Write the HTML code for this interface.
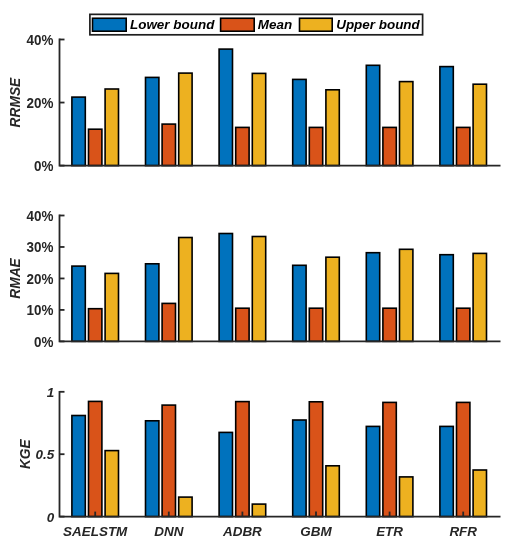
<!DOCTYPE html>
<html><head><meta charset="utf-8"><title>Bar chart</title>
<style>html,body{margin:0;padding:0;background:#fff;width:515px;height:550px;overflow:hidden}</style>
</head><body><div style="width:515px;height:550px">
<svg width="515" height="550" viewBox="0 0 515 550" style="display:block">
<g>
<rect x="0" y="0" width="515" height="550" fill="#fff"/>
<rect x="71.90" y="97.10" width="13.40" height="68.50" fill="#0072BD" stroke="#000" stroke-width="1.6"/>
<rect x="88.50" y="129.20" width="13.40" height="36.40" fill="#D95319" stroke="#000" stroke-width="1.6"/>
<rect x="105.10" y="89.00" width="13.40" height="76.60" fill="#EDB120" stroke="#000" stroke-width="1.6"/>
<rect x="145.50" y="77.40" width="13.40" height="88.20" fill="#0072BD" stroke="#000" stroke-width="1.6"/>
<rect x="162.10" y="124.10" width="13.40" height="41.50" fill="#D95319" stroke="#000" stroke-width="1.6"/>
<rect x="178.70" y="73.10" width="13.40" height="92.50" fill="#EDB120" stroke="#000" stroke-width="1.6"/>
<rect x="219.10" y="49.10" width="13.40" height="116.50" fill="#0072BD" stroke="#000" stroke-width="1.6"/>
<rect x="235.70" y="127.40" width="13.40" height="38.20" fill="#D95319" stroke="#000" stroke-width="1.6"/>
<rect x="252.30" y="73.40" width="13.40" height="92.20" fill="#EDB120" stroke="#000" stroke-width="1.6"/>
<rect x="292.70" y="79.40" width="13.40" height="86.20" fill="#0072BD" stroke="#000" stroke-width="1.6"/>
<rect x="309.30" y="127.40" width="13.40" height="38.20" fill="#D95319" stroke="#000" stroke-width="1.6"/>
<rect x="325.90" y="89.80" width="13.40" height="75.80" fill="#EDB120" stroke="#000" stroke-width="1.6"/>
<rect x="366.30" y="65.30" width="13.40" height="100.30" fill="#0072BD" stroke="#000" stroke-width="1.6"/>
<rect x="382.90" y="127.40" width="13.40" height="38.20" fill="#D95319" stroke="#000" stroke-width="1.6"/>
<rect x="399.50" y="81.60" width="13.40" height="84.00" fill="#EDB120" stroke="#000" stroke-width="1.6"/>
<rect x="439.90" y="66.60" width="13.40" height="99.00" fill="#0072BD" stroke="#000" stroke-width="1.6"/>
<rect x="456.50" y="127.40" width="13.40" height="38.20" fill="#D95319" stroke="#000" stroke-width="1.6"/>
<rect x="473.10" y="84.20" width="13.40" height="81.40" fill="#EDB120" stroke="#000" stroke-width="1.6"/>
<path d="M59.5,39.5 V165.6 H499.6" fill="none" stroke="#262626" stroke-width="1.8" stroke-linecap="square"/>
<path d="M59.5,165.60 H64.5" stroke="#262626" stroke-width="1.8"/>
<text transform="translate(53.5,170.90) scale(1,1.06)" text-anchor="end" style="font-family:'Liberation Sans',Arial,sans-serif;font-weight:bold;font-size:13.45px" fill="#262626">0%</text>
<path d="M59.5,102.55 H64.5" stroke="#262626" stroke-width="1.8"/>
<text transform="translate(53.5,107.85) scale(1,1.06)" text-anchor="end" style="font-family:'Liberation Sans',Arial,sans-serif;font-weight:bold;font-size:13.45px" fill="#262626">20%</text>
<path d="M59.5,39.50 H64.5" stroke="#262626" stroke-width="1.8"/>
<text transform="translate(53.5,44.80) scale(1,1.06)" text-anchor="end" style="font-family:'Liberation Sans',Arial,sans-serif;font-weight:bold;font-size:13.45px" fill="#262626">40%</text>
<text transform="translate(19.5,102.55) rotate(-90)" text-anchor="middle" style="font-family:'Liberation Sans',Arial,sans-serif;font-weight:bold;font-style:italic;font-size:13.75px" fill="#262626">RRMSE</text>
<rect x="71.90" y="266.10" width="13.40" height="75.30" fill="#0072BD" stroke="#000" stroke-width="1.6"/>
<rect x="88.50" y="308.70" width="13.40" height="32.70" fill="#D95319" stroke="#000" stroke-width="1.6"/>
<rect x="105.10" y="273.40" width="13.40" height="68.00" fill="#EDB120" stroke="#000" stroke-width="1.6"/>
<rect x="145.50" y="263.80" width="13.40" height="77.60" fill="#0072BD" stroke="#000" stroke-width="1.6"/>
<rect x="162.10" y="303.40" width="13.40" height="38.00" fill="#D95319" stroke="#000" stroke-width="1.6"/>
<rect x="178.70" y="237.50" width="13.40" height="103.90" fill="#EDB120" stroke="#000" stroke-width="1.6"/>
<rect x="219.10" y="233.50" width="13.40" height="107.90" fill="#0072BD" stroke="#000" stroke-width="1.6"/>
<rect x="235.70" y="308.20" width="13.40" height="33.20" fill="#D95319" stroke="#000" stroke-width="1.6"/>
<rect x="252.30" y="236.50" width="13.40" height="104.90" fill="#EDB120" stroke="#000" stroke-width="1.6"/>
<rect x="292.70" y="265.30" width="13.40" height="76.10" fill="#0072BD" stroke="#000" stroke-width="1.6"/>
<rect x="309.30" y="308.20" width="13.40" height="33.20" fill="#D95319" stroke="#000" stroke-width="1.6"/>
<rect x="325.90" y="257.20" width="13.40" height="84.20" fill="#EDB120" stroke="#000" stroke-width="1.6"/>
<rect x="366.30" y="252.70" width="13.40" height="88.70" fill="#0072BD" stroke="#000" stroke-width="1.6"/>
<rect x="382.90" y="308.20" width="13.40" height="33.20" fill="#D95319" stroke="#000" stroke-width="1.6"/>
<rect x="399.50" y="249.30" width="13.40" height="92.10" fill="#EDB120" stroke="#000" stroke-width="1.6"/>
<rect x="439.90" y="254.70" width="13.40" height="86.70" fill="#0072BD" stroke="#000" stroke-width="1.6"/>
<rect x="456.50" y="308.20" width="13.40" height="33.20" fill="#D95319" stroke="#000" stroke-width="1.6"/>
<rect x="473.10" y="253.40" width="13.40" height="88.00" fill="#EDB120" stroke="#000" stroke-width="1.6"/>
<path d="M59.5,215.5 V341.4 H499.6" fill="none" stroke="#262626" stroke-width="1.8" stroke-linecap="square"/>
<path d="M59.5,341.40 H64.5" stroke="#262626" stroke-width="1.8"/>
<text transform="translate(53.5,346.70) scale(1,1.06)" text-anchor="end" style="font-family:'Liberation Sans',Arial,sans-serif;font-weight:bold;font-size:13.45px" fill="#262626">0%</text>
<path d="M59.5,309.92 H64.5" stroke="#262626" stroke-width="1.8"/>
<text transform="translate(53.5,315.22) scale(1,1.06)" text-anchor="end" style="font-family:'Liberation Sans',Arial,sans-serif;font-weight:bold;font-size:13.45px" fill="#262626">10%</text>
<path d="M59.5,278.45 H64.5" stroke="#262626" stroke-width="1.8"/>
<text transform="translate(53.5,283.75) scale(1,1.06)" text-anchor="end" style="font-family:'Liberation Sans',Arial,sans-serif;font-weight:bold;font-size:13.45px" fill="#262626">20%</text>
<path d="M59.5,246.97 H64.5" stroke="#262626" stroke-width="1.8"/>
<text transform="translate(53.5,252.28) scale(1,1.06)" text-anchor="end" style="font-family:'Liberation Sans',Arial,sans-serif;font-weight:bold;font-size:13.45px" fill="#262626">30%</text>
<path d="M59.5,215.50 H64.5" stroke="#262626" stroke-width="1.8"/>
<text transform="translate(53.5,220.80) scale(1,1.06)" text-anchor="end" style="font-family:'Liberation Sans',Arial,sans-serif;font-weight:bold;font-size:13.45px" fill="#262626">40%</text>
<text transform="translate(19.5,278.45) rotate(-90)" text-anchor="middle" style="font-family:'Liberation Sans',Arial,sans-serif;font-weight:bold;font-style:italic;font-size:13.75px" fill="#262626">RMAE</text>
<rect x="71.90" y="415.50" width="13.40" height="101.10" fill="#0072BD" stroke="#000" stroke-width="1.6"/>
<rect x="88.50" y="401.40" width="13.40" height="115.20" fill="#D95319" stroke="#000" stroke-width="1.6"/>
<rect x="105.10" y="450.60" width="13.40" height="66.00" fill="#EDB120" stroke="#000" stroke-width="1.6"/>
<rect x="145.50" y="420.80" width="13.40" height="95.80" fill="#0072BD" stroke="#000" stroke-width="1.6"/>
<rect x="162.10" y="405.10" width="13.40" height="111.50" fill="#D95319" stroke="#000" stroke-width="1.6"/>
<rect x="178.70" y="497.10" width="13.40" height="19.50" fill="#EDB120" stroke="#000" stroke-width="1.6"/>
<rect x="219.10" y="432.40" width="13.40" height="84.20" fill="#0072BD" stroke="#000" stroke-width="1.6"/>
<rect x="235.70" y="401.60" width="13.40" height="115.00" fill="#D95319" stroke="#000" stroke-width="1.6"/>
<rect x="252.30" y="504.10" width="13.40" height="12.50" fill="#EDB120" stroke="#000" stroke-width="1.6"/>
<rect x="292.70" y="420.00" width="13.40" height="96.60" fill="#0072BD" stroke="#000" stroke-width="1.6"/>
<rect x="309.30" y="401.80" width="13.40" height="114.80" fill="#D95319" stroke="#000" stroke-width="1.6"/>
<rect x="325.90" y="465.80" width="13.40" height="50.80" fill="#EDB120" stroke="#000" stroke-width="1.6"/>
<rect x="366.30" y="426.40" width="13.40" height="90.20" fill="#0072BD" stroke="#000" stroke-width="1.6"/>
<rect x="382.90" y="402.40" width="13.40" height="114.20" fill="#D95319" stroke="#000" stroke-width="1.6"/>
<rect x="399.50" y="476.90" width="13.40" height="39.70" fill="#EDB120" stroke="#000" stroke-width="1.6"/>
<rect x="439.90" y="426.40" width="13.40" height="90.20" fill="#0072BD" stroke="#000" stroke-width="1.6"/>
<rect x="456.50" y="402.40" width="13.40" height="114.20" fill="#D95319" stroke="#000" stroke-width="1.6"/>
<rect x="473.10" y="470.00" width="13.40" height="46.60" fill="#EDB120" stroke="#000" stroke-width="1.6"/>
<path d="M59.5,391.8 V516.6 H499.6" fill="none" stroke="#262626" stroke-width="1.8" stroke-linecap="square"/>
<path d="M59.5,516.60 H64.5" stroke="#262626" stroke-width="1.8"/>
<text transform="translate(54.2,521.50)" text-anchor="end" style="font-family:'Liberation Sans',Arial,sans-serif;font-weight:bold;font-style:italic;font-size:13.45px" fill="#262626">0</text>
<path d="M59.5,454.20 H64.5" stroke="#262626" stroke-width="1.8"/>
<text transform="translate(54.2,459.10)" text-anchor="end" style="font-family:'Liberation Sans',Arial,sans-serif;font-weight:bold;font-style:italic;font-size:13.45px" fill="#262626">0.5</text>
<path d="M59.5,391.80 H64.5" stroke="#262626" stroke-width="1.8"/>
<text transform="translate(54.2,396.70)" text-anchor="end" style="font-family:'Liberation Sans',Arial,sans-serif;font-weight:bold;font-style:italic;font-size:13.45px" fill="#262626">1</text>
<path d="M95.20,516.6 V511.6" stroke="#262626" stroke-width="1.8"/>
<text x="95.20" y="536.10" text-anchor="middle" style="font-family:'Liberation Sans',Arial,sans-serif;font-weight:bold;font-style:italic;font-size:13.45px" fill="#262626">SAELSTM</text>
<path d="M168.80,516.6 V511.6" stroke="#262626" stroke-width="1.8"/>
<text x="168.80" y="536.10" text-anchor="middle" style="font-family:'Liberation Sans',Arial,sans-serif;font-weight:bold;font-style:italic;font-size:13.45px" fill="#262626">DNN</text>
<path d="M242.40,516.6 V511.6" stroke="#262626" stroke-width="1.8"/>
<text x="242.40" y="536.10" text-anchor="middle" style="font-family:'Liberation Sans',Arial,sans-serif;font-weight:bold;font-style:italic;font-size:13.45px" fill="#262626">ADBR</text>
<path d="M316.00,516.6 V511.6" stroke="#262626" stroke-width="1.8"/>
<text x="316.00" y="536.10" text-anchor="middle" style="font-family:'Liberation Sans',Arial,sans-serif;font-weight:bold;font-style:italic;font-size:13.45px" fill="#262626">GBM</text>
<path d="M389.60,516.6 V511.6" stroke="#262626" stroke-width="1.8"/>
<text x="389.60" y="536.10" text-anchor="middle" style="font-family:'Liberation Sans',Arial,sans-serif;font-weight:bold;font-style:italic;font-size:13.45px" fill="#262626">ETR</text>
<path d="M463.20,516.6 V511.6" stroke="#262626" stroke-width="1.8"/>
<text x="463.20" y="536.10" text-anchor="middle" style="font-family:'Liberation Sans',Arial,sans-serif;font-weight:bold;font-style:italic;font-size:13.45px" fill="#262626">RFR</text>
<text transform="translate(29.5,454.20) rotate(-90)" text-anchor="middle" style="font-family:'Liberation Sans',Arial,sans-serif;font-weight:bold;font-style:italic;font-size:13.75px" fill="#262626">KGE</text>
<rect x="89.9" y="14.35" width="332.7" height="20.45" fill="#fff" stroke="#1e1e1e" stroke-width="1.7"/>
<rect x="92.5" y="18.25" width="33.70" height="12.95" fill="#0072BD" stroke="#000" stroke-width="1.6"/>
<text x="130" y="29.4" style="font-family:'Liberation Sans',Arial,sans-serif;font-weight:bold;font-style:italic;font-size:13.45px" fill="#000">Lower bound</text>
<rect x="220.60000000000002" y="18.25" width="33.60" height="12.95" fill="#D95319" stroke="#000" stroke-width="1.6"/>
<text x="257.8" y="29.4" style="font-family:'Liberation Sans',Arial,sans-serif;font-weight:bold;font-style:italic;font-size:13.45px" fill="#000">Mean</text>
<rect x="299.5" y="18.25" width="32.70" height="12.95" fill="#EDB120" stroke="#000" stroke-width="1.6"/>
<text x="336.2" y="29.4" style="font-family:'Liberation Sans',Arial,sans-serif;font-weight:bold;font-style:italic;font-size:13.45px" fill="#000">Upper bound</text>
</g></svg>
</div></body></html>
